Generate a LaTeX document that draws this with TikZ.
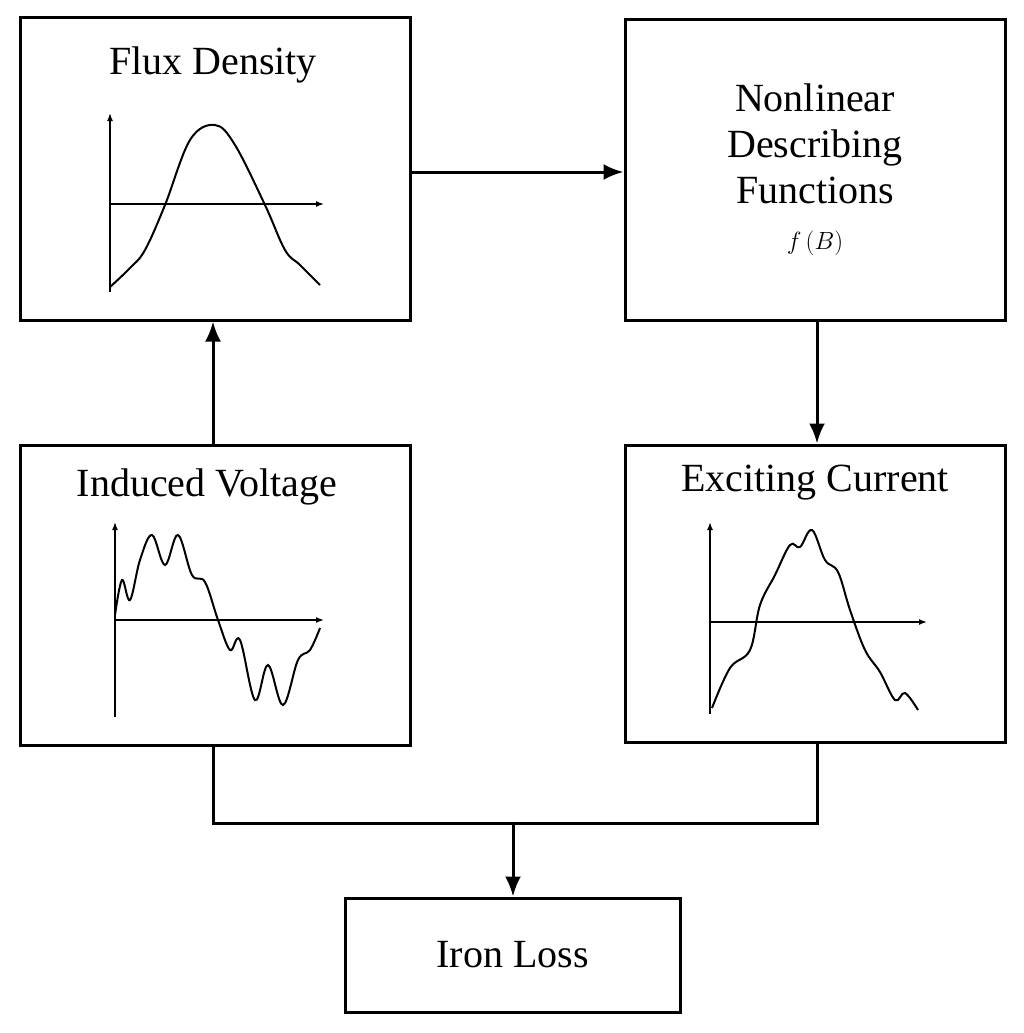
\documentclass[tikz,border=0pt]{standalone}
\usetikzlibrary{arrows.meta}
\usepackage{fontspec}
\setmainfont{Liberation Serif}
\begin{document}
\begin{tikzpicture}[x=1pt,y=-1pt,
  box/.style={draw,line width=3pt},
  con/.style={line width=3pt},
  arr/.style={con,-{Latex[length=20pt,width=16pt]}},
  ax/.style={line width=1.5pt,-{Latex[length=8pt,width=6pt]}},
  wave/.style={line width=2pt,smooth,tension=0.6},
  lbl/.style={font=\fontsize{40}{46}\selectfont,align=center}]
\useasboundingbox (0,0) rectangle (1024,1033);
\node[box,minimum width=390pt,minimum height=302pt] (flux) at (215,169) {};
\node[lbl] (fluxt) at (213,65) {Flux Density};
\node[box,minimum width=380pt,minimum height=300pt,lbl] (nl) at (815,170) {Nonlinear\\Describing\\Functions\\$f\,(B)$};
\node[box,minimum width=390pt,minimum height=300pt] (iv) at (215,595) {};
\node[lbl] (ivt) at (207,487) {Induced Voltage};
\node[box,minimum width=380pt,minimum height=297pt] (ec) at (815,593.5) {};
\node[lbl] (ect) at (815,483) {Exciting Current};
\node[box,minimum width=335pt,minimum height=114pt,lbl] (il) at (512.5,955) {Iron Loss};
\coordinate (j1) at (213,823);
\coordinate (j2) at (817,823);
\coordinate (j3) at (513,823);
\draw[arr] (flux.east |- 0,172) -- (nl.west |- 0,172);
\draw[arr] (nl.south -| 817,0) -- (ec.north -| 817,0);
\draw[arr] (iv.north -| 213,0) -- (flux.south -| 213,0);
\draw[con] (iv.south -| 213,0) -- (j1) -- (j2) -- (ec.south -| 817,0);
\draw[arr] ([yshift=1.5pt]j3) -- (il.north -| 513,0);
% flux density plot
\draw[ax] (110,292) -- (110,113);
\draw[ax] (110,204) -- (324,204);
\draw[wave] plot coordinates {(110,287) (130,268) (145,250) (165,205) (190,140) (215,125) (235,145) (265,205) (285,250) (300,265) (320,285)};
% induced voltage plot
\draw[ax] (115,717) -- (115,522);
\draw[ax] (115,620) -- (324,620);
\draw[wave] plot coordinates {(115,615) (122,580) (130,600) (140,560) (152,535) (165,565) (178,535) (192,575) (205,582) (218,620) (230,650) (240,640) (255,700) (268,665) (283,705) (298,660) (310,650) (320,628)};
% exciting current plot
\draw[ax] (710,714) -- (710,522);
\draw[ax] (710,622) -- (927,622);
\draw[wave] plot coordinates {(712,708) (730,668) (750,650) (760,605) (775,575) (790,545) (800,547) (812,530) (825,560) (838,572) (850,610) (865,650) (880,672) (895,700) (905,693) (918,710)};
\end{tikzpicture}
\end{document}
